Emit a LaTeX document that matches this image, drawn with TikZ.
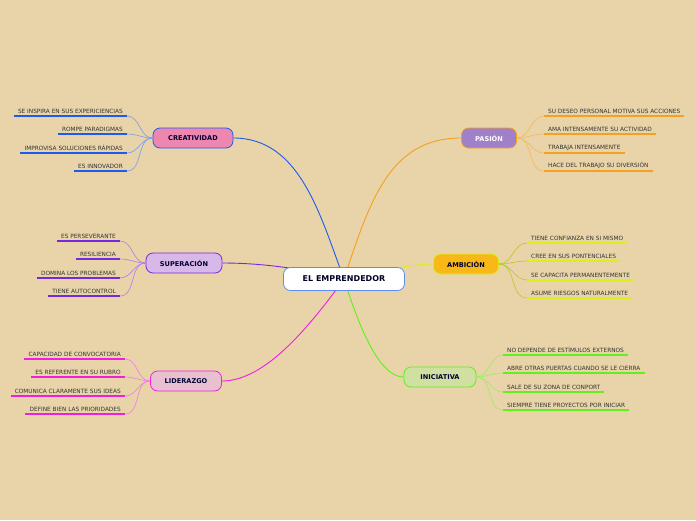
\documentclass[tikz,border=0pt]{standalone}
\usepackage{fontspec}
\setmainfont{DejaVu Sans}
\begin{document}
\begin{tikzpicture}[x=1pt,y=-1pt,
  topic/.style={draw,rounded corners=7pt,line width=0.8pt,minimum height=20pt,inner xsep=7pt,font=\fontsize{6.6}{7}\selectfont\bfseries,text=black!80!blue},
  leafl/.style={anchor=south east,inner xsep=4pt,inner ysep=2.2pt,font=\fontsize{5.8}{6}\selectfont,text=black!80},
  leafr/.style={anchor=south west,inner xsep=4pt,inner ysep=2.2pt,font=\fontsize{5.8}{6}\selectfont,text=black!80},
  ul/.style={line width=1.4pt},
  br/.style={line width=0.9pt},
  tw/.style={line width=0.6pt}]
\fill[fill={rgb,255:red,232;green,212;blue,168}] (0,0) rectangle (696,520);
\useasboundingbox (0,0) rectangle (696,520);
\definecolor{cB}{RGB}{30,90,240}\definecolor{cP}{RGB}{120,40,225}\definecolor{cM}{RGB}{240,30,225}
\definecolor{cO}{RGB}{245,160,30}\definecolor{cY}{RGB}{215,240,30}\definecolor{cG}{RGB}{95,240,30}
\coordinate (mc) at (344,279);
\node[topic,draw=cB,fill={rgb,255:red,238;green,135;blue,176},minimum width=80pt] (cre) at (193,138) {CREATIVIDAD};
\node[topic,draw=cP,fill={rgb,255:red,216;green,184;blue,232},minimum width=76pt] (sup) at (184,263) {SUPERACIÓN};
\node[topic,draw=cM,fill={rgb,255:red,232;green,192;blue,208},minimum width=71pt] (lid) at (186,381) {LIDERAZGO};
\node[topic,draw=cO,fill={rgb,255:red,160;green,128;blue,200},text=white,minimum width=55pt] (pas) at (489,138) {PASIÓN};
\node[topic,draw=cY,fill={rgb,255:red,248;green,184;blue,24},minimum width=65pt] (amb) at (466,264) {AMBICIÓN};
\node[topic,draw=cG,fill={rgb,255:red,208;green,224;blue,160},minimum width=72pt] (ini) at (440,377) {INICIATIVA};
\draw[br,cB] (mc) .. controls (320,215) and (300,138) .. (cre.east);
\draw[br,cP] (mc) .. controls (300,268) and (260,263) .. (sup.east);
\draw[br,cM] (mc) .. controls (300,340) and (260,381) .. (lid.east);
\draw[br,cO] (mc) .. controls (370,200) and (390,138) .. (pas.west);
\draw[br,cY] (mc) .. controls (390,270) and (410,264) .. (amb.west);
\draw[br,cG] (mc) .. controls (360,330) and (380,377) .. (ini.west);
\node[topic,draw=cB!70,fill=white,text=black!85!blue,minimum width=121pt,minimum height=23pt,font=\fontsize{8}{9}\selectfont\bfseries] (main) at (mc) {EL EMPRENDEDOR};
% left leaves
\foreach \y/\t [count=\i] in {116/SE INSPIRA EN SUS EXPERICIENCIAS,134/ROMPE PARADIGMAS,153/IMPROVISA SOLUCIONES RÁPIDAS,171/ES INNOVADOR}
 {\node[leafl] (cl\i) at (127,\y) {\t};
  \draw[ul,cB] (cl\i.south west)--(cl\i.south east);
  \draw[tw,cB!60] (cre.west) to[out=180,in=0] (cl\i.south east);}
\foreach \y/\t [count=\i] in {241/ES PERSEVERANTE,259/RESILIENCIA,278/DOMINA LOS PROBLEMAS,296/TIENE AUTOCONTROL}
 {\node[leafl] (sl\i) at (120,\y) {\t};
  \draw[ul,cP] (sl\i.south west)--(sl\i.south east);
  \draw[tw,cP!60] (sup.west) to[out=180,in=0] (sl\i.south east);}
\foreach \y/\t [count=\i] in {359/CAPACIDAD DE CONVOCATORIA,377/ES REFERENTE EN SU RUBRO,396/COMUNICA CLARAMENTE SUS IDEAS,414/DEFINE BIEN LAS PRIORIDADES}
 {\node[leafl] (ll\i) at (125,\y) {\t};
  \draw[ul,cM] (ll\i.south west)--(ll\i.south east);
  \draw[tw,cM!60] (lid.west) to[out=180,in=0] (ll\i.south east);}
% right leaves
\foreach \y/\t [count=\i] in {116/SU DESEO PERSONAL MOTIVA SUS ACCIONES,134/AMA INTENSAMENTE SU ACTIVIDAD,153/TRABAJA INTENSAMENTE,171/HACE DEL TRABAJO SU DIVERSIÓN}
 {\node[leafr] (pl\i) at (544,\y) {\t};
  \draw[ul,cO] (pl\i.south west)--(pl\i.south east);
  \draw[tw,cO!75] (pas.east) to[out=0,in=180] (pl\i.south west);}
\foreach \y/\t [count=\i] in {243/TIENE CONFIANZA EN SI MISMO,261/CREE EN SUS PONTENCIALES,280/SE CAPACITA PERMANENTEMENTE,298/ASUME RIESGOS NATURALMENTE}
 {\node[leafr] (al\i) at (527,\y) {\t};
  \draw[ul,cY] (al\i.south west)--(al\i.south east);
  \draw[tw,cY!85!black] (amb.east) to[out=0,in=180] (al\i.south west);}
\foreach \y/\t [count=\i] in {355/NO DEPENDE DE ESTÍMULOS EXTERNOS,373/ABRE OTRAS PUERTAS CUANDO SE LE CIERRA,392/SALE DE SU ZONA DE CONPORT,410/SIEMPRE TIENE PROYECTOS POR INICIAR}
 {\node[leafr] (il\i) at (503,\y) {\t};
  \draw[ul,cG] (il\i.south west)--(il\i.south east);
  \draw[tw,cG!70] (ini.east) to[out=0,in=180] (il\i.south west);}
\end{tikzpicture}
\end{document}
